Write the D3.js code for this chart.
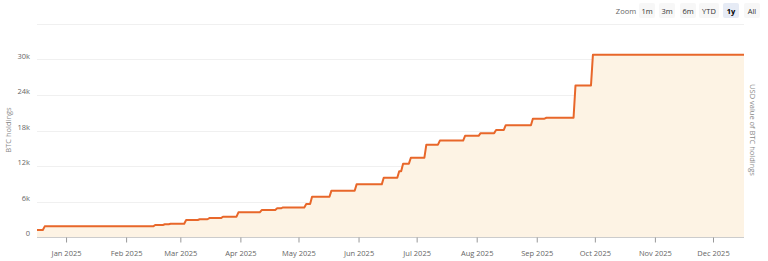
<!DOCTYPE html>
<html>
<head>
<meta charset="utf-8">
<script src="https://cdn.jsdelivr.net/npm/d3@7"></script>
<style>
  body { margin: 0; background: #fff; }
  svg { display: block; font-family: "Open Sans", "Noto Sans", sans-serif; }
</style>
</head>
<body>
<svg id="chart" width="768" height="261"></svg>
<script>
// dates where the holdings changed, and holdings after the change (BTC)
var changeDates = ["2024-12-17", "2024-12-21", "2025-02-16", "2025-02-21", "2025-02-24",
    "2025-03-04", "2025-03-11", "2025-03-16", "2025-03-23", "2025-03-31",
    "2025-04-12", "2025-04-20", "2025-04-23", "2025-05-05", "2025-05-08",
    "2025-05-18", "2025-05-31", "2025-06-14", "2025-06-22", "2025-06-24",
    "2025-06-28", "2025-07-06", "2025-07-13", "2025-07-26", "2025-08-03",
    "2025-08-11", "2025-08-16", "2025-08-30", "2025-09-06", "2025-09-21",
    "2025-09-30"];
var holdings = [1180, 1800, 2030, 2150, 2250,
    2870, 3000, 3200, 3430, 4170,
    4560, 4850, 5000, 5580, 6810,
    7830, 8900, 10000, 11100, 12400,
    13400, 15600, 16300, 17100, 17550,
    18100, 18900, 20000, 20150, 25600,
    30800];
var endDate = "2025-12-17";
var yTicks = [0, 6000, 12000, 18000, 24000, 30000, 36000];
var yTickLabels = ["0", "6k", "12k", "18k", "24k", "30k", ""];
var zoomButtons = ["1m", "3m", "6m", "YTD", "1y", "All"];
var selectedButton = "1y";

var svg = d3.select("#chart");
var parse = d3.utcParse("%Y-%m-%d");
var plotLeft = 37, plotRight = 744, plotTop = 24, plotBottom = 237;

var x = d3.scaleUtc()
    .domain([parse(changeDates[0]), parse(endDate)])
    .range([plotLeft, plotRight]);
var y = d3.scaleLinear().domain([0, 36000]).range([plotBottom, plotTop]);

// step series: hold the previous value until the day before each change
var points = [];
changeDates.forEach(function(d, i) {
    var dt = parse(d);
    if (i > 0) points.push({ date: d3.utcDay.offset(dt, -1), v: holdings[i - 1] });
    points.push({ date: dt, v: holdings[i] });
});
points.push({ date: parse(endDate), v: holdings[holdings.length - 1] });

// grid
svg.append("g").selectAll("line")
    .data(yTicks.slice(1))
    .enter().append("line")
    .attr("x1", plotLeft).attr("x2", plotRight)
    .attr("y1", function(d) { return Math.round(y(d)) + 0.5; })
    .attr("y2", function(d) { return Math.round(y(d)) + 0.5; })
    .attr("stroke", "#f0f0f0");

svg.append("g").selectAll("text")
    .data(yTicks)
    .enter().append("text")
    .attr("x", 30)
    .attr("y", function(d) { return y(d) - 1; })
    .attr("text-anchor", "end")
    .style("font-size", "7.5px")
    .style("fill", "#666")
    .text(function(d, i) { return yTickLabels[i]; });

// area + line
var area = d3.area()
    .x(function(d) { return x(d.date); })
    .y0(y(0))
    .y1(function(d) { return y(d.v); });
var line = d3.line()
    .x(function(d) { return x(d.date); })
    .y(function(d) { return y(d.v); });

svg.append("path")
    .datum(points)
    .attr("d", area)
    .attr("fill", "#fdf3e4");

svg.append("path")
    .datum(points)
    .attr("d", line)
    .attr("fill", "none")
    .attr("stroke", "#e8672a")
    .attr("stroke-width", 2)
    .attr("stroke-linejoin", "round");

// x axis
var xAxis = d3.axisBottom(x)
    .ticks(d3.utcMonth.every(1))
    .tickSize(5)
    .tickFormat(d3.utcFormat("%b %Y"));
var gx = svg.append("g")
    .attr("transform", "translate(0," + (plotBottom + 0.5) + ")")
    .call(xAxis);
gx.select(".domain").attr("stroke", "#ccc").attr("d", "M" + plotLeft + ",0H" + plotRight);
gx.selectAll(".tick line").attr("stroke", "#999");
gx.selectAll(".tick text")
    .attr("y", 13)
    .style("font-size", "7.5px")
    .style("fill", "#666")
    .style("font-family", "'Open Sans', 'Noto Sans', sans-serif");

// axis titles
svg.append("text")
    .attr("transform", "translate(11," + 130 + ") rotate(-90)")
    .attr("text-anchor", "middle")
    .style("font-size", "7.5px")
    .style("fill", "#888")
    .text("BTC holdings");
svg.append("text")
    .attr("transform", "translate(750," + 130 + ") rotate(90)")
    .attr("text-anchor", "middle")
    .style("font-size", "7.5px")
    .style("fill", "#888")
    .text("USD value of BTC holdings");

// range selector
var zx = [647, 667, 688, 709, 731, 752];
var zw = [16, 16, 16, 20, 16, 16];
svg.append("text")
    .attr("x", 626).attr("y", 14)
    .attr("text-anchor", "middle")
    .style("font-size", "7.5px")
    .style("fill", "#666")
    .text("Zoom");
var btn = svg.append("g").selectAll("g")
    .data(zoomButtons)
    .enter().append("g");
btn.append("rect")
    .attr("x", function(d, i) { return zx[i] - zw[i] / 2; })
    .attr("y", 3)
    .attr("width", function(d, i) { return zw[i]; })
    .attr("height", 15)
    .attr("rx", 2)
    .attr("fill", function(d) { return d === selectedButton ? "#e6ebf5" : "#f7f7f7"; });
btn.append("text")
    .attr("x", function(d, i) { return zx[i]; })
    .attr("y", 14)
    .attr("text-anchor", "middle")
    .style("font-size", "7.5px")
    .style("font-weight", function(d) { return d === selectedButton ? "bold" : "normal"; })
    .style("fill", function(d) { return d === selectedButton ? "#000" : "#333"; })
    .text(function(d) { return d; });
</script>
</body>
</html>
